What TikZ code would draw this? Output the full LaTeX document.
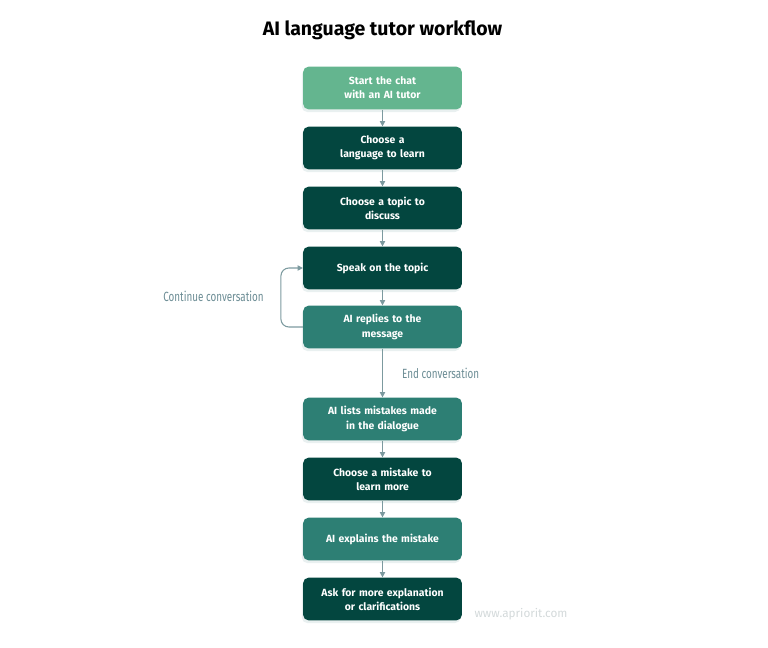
\documentclass[tikz,border=0pt]{standalone}
\usepackage{fontspec}
\setmainfont{Fira Sans}
\newfontfamily\condfont[FakeStretch=0.74]{Fira Sans}
\usetikzlibrary{shadows,arrows.meta}
\definecolor{startgreen}{HTML}{64B58F}
\definecolor{darkteal}{HTML}{03463F}
\definecolor{midteal}{HTML}{2D7F74}
\definecolor{linegray}{HTML}{7C9A9F}
\definecolor{labelgray}{HTML}{6B8C94}
\definecolor{markgray}{HTML}{D3D9DA}
\begin{document}
\begin{tikzpicture}[x=0.75pt,y=-0.75pt,
  box/.style={rounded corners=4pt,minimum width=119pt,minimum height=32pt,text width=112pt,align=center,
    text=white,font=\fontsize{7.8}{10.7}\selectfont\bfseries,
    drop shadow={opacity=0.12,fill=teal!40!gray,shadow xshift=-1pt,shadow yshift=-2pt}},
  flow/.style={draw=linegray,line width=0.8pt,-{Triangle[length=4pt,width=4pt]}},
  note/.style={text=labelgray,font=\condfont\fontsize{10}{12}\selectfont}]
\useasboundingbox (0,0) rectangle (768,647);
\pgfmathsetmacro{\colx}{382.5}
\node[font=\fontsize{14.6}{17}\selectfont\bfseries] (title) at (\colx,30) {AI language tutor workflow};
\node[box,fill=startgreen] (start) at (\colx,88) {Start the chat\\with an AI tutor};
\node[box,fill=darkteal] (lang) at (\colx,148) {Choose a\\language to learn};
\node[box,fill=darkteal] (topic) at (\colx,208) {Choose a topic to\\discuss};
\node[box,fill=darkteal] (speak) at (\colx,268) {Speak on the topic};
\node[box,fill=midteal] (reply) at (\colx,327) {AI replies to the\\message};
\node[box,fill=midteal] (lists) at (\colx,419) {AI lists mistakes made\\in the dialogue};
\node[box,fill=darkteal] (pick) at (\colx,479) {Choose a mistake to\\learn more};
\node[box,fill=midteal] (explain) at (\colx,539) {AI explains the mistake};
\node[box,fill=darkteal] (ask) at (\colx,599) {Ask for more explanation\\or clarifications};
\draw[flow] (start) -- (lang);
\draw[flow] (lang) -- (topic);
\draw[flow] (topic) -- (speak);
\draw[flow] (speak) -- (reply);
\draw[flow] (reply) -- node[note,right=11pt,pos=0.5] (endlbl) {End conversation} (lists);
\draw[flow] (lists) -- (pick);
\draw[flow] (pick) -- (explain);
\draw[flow] (explain) -- (ask);
\draw[flow,rounded corners=6pt] (reply.west) -- ++(-22,0) |- (speak.west);
\node[note] (contlbl) at (213.5,296) {Continue conversation};
\node[text=markgray,font=\fontsize{8.8}{10}\selectfont] (mark) at (521,614) {www.apriorit.com};
\end{tikzpicture}
\end{document}
